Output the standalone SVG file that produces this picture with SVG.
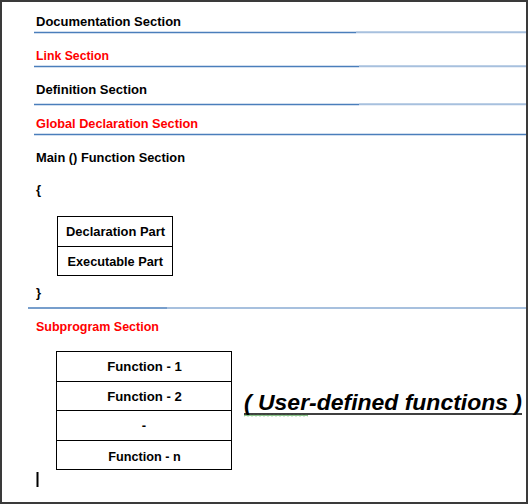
<svg xmlns="http://www.w3.org/2000/svg" width="528" height="504" viewBox="0 0 528 504">
<style>
.t{font-family:"Liberation Sans",Arial,sans-serif;font-weight:bold;font-size:13px;fill:#000}
.r{fill:#ff0000}
.c{text-anchor:middle}
.box{fill:#fff;stroke:#000;stroke-width:1}
.dk{stroke:#4a7ebb;stroke-width:1.3}
.lt{stroke:#a7c0de;stroke-width:2}
</style>
<rect x="0" y="0" width="528" height="504" fill="#fff"/>
<g id="connectors">
<line class="dk" x1="34" y1="32.5" x2="356" y2="32.5"/>
<line class="lt" x1="356" y1="32.3" x2="527" y2="32.3"/>
<line class="dk" x1="34" y1="66.5" x2="359" y2="66.5"/>
<line class="lt" x1="359" y1="66.3" x2="527" y2="66.3"/>
<line class="dk" x1="34" y1="104.5" x2="359" y2="104.5"/>
<line class="lt" x1="359" y1="104.3" x2="527" y2="104.3"/>
<line class="dk" x1="34" y1="134.5" x2="527" y2="134.5"/>
<line class="dk" x1="28" y1="308" x2="167" y2="308"/>
<line class="lt" x1="167" y1="308" x2="527" y2="308"/>
</g>
<g id="documentation"><text class="t" x="36" y="25.5" textLength="145" lengthAdjust="spacingAndGlyphs">Documentation Section</text></g>
<g id="link"><text class="t r" x="36" y="59.5" textLength="73" lengthAdjust="spacingAndGlyphs">Link Section</text></g>
<g id="definition"><text class="t" x="36" y="93.5" textLength="111" lengthAdjust="spacingAndGlyphs">Definition Section</text></g>
<g id="global"><text class="t r" x="36" y="127.5" textLength="162" lengthAdjust="spacingAndGlyphs">Global Declaration Section</text></g>
<g id="main"><text class="t" x="36" y="161.5" textLength="149" lengthAdjust="spacingAndGlyphs">Main () Function Section</text>
<text class="t" x="36" y="194">{</text>
<text class="t" x="36" y="296.5">}</text></g>
<g id="main-body">
<rect class="box" x="57.5" y="216.5" width="115" height="59"/>
<line stroke="#000" x1="57.5" y1="246.5" x2="172.5" y2="246.5"/>
<text class="t" x="66" y="236" textLength="99" lengthAdjust="spacingAndGlyphs">Declaration Part</text>
<text class="t" x="67.5" y="266" textLength="95.5" lengthAdjust="spacingAndGlyphs">Executable Part</text>
</g>
<g id="subprogram"><text class="t r" x="36" y="331" textLength="123" lengthAdjust="spacingAndGlyphs">Subprogram Section</text></g>
<g id="functions">
<rect class="box" x="56.5" y="351.5" width="175" height="118"/>
<line stroke="#000" x1="56.5" y1="381.5" x2="231.5" y2="381.5"/>
<line stroke="#000" x1="56.5" y1="410.5" x2="231.5" y2="410.5"/>
<line stroke="#000" x1="56.5" y1="440.5" x2="231.5" y2="440.5"/>
<text class="t" x="107.3" y="371" textLength="74.5" lengthAdjust="spacingAndGlyphs">Function  - 1</text>
<text class="t" x="107.3" y="401" textLength="74.5" lengthAdjust="spacingAndGlyphs">Function -  2</text>
<text class="t c" x="144" y="430">-</text>
<text class="t" x="108.3" y="460.5" textLength="72.5" lengthAdjust="spacingAndGlyphs">Function - n</text>
</g>
<g id="user-defined">
<text x="244" y="410" font-family="'Liberation Sans',Arial,sans-serif" font-weight="bold" font-style="italic" font-size="22" textLength="278" lengthAdjust="spacingAndGlyphs">( User-defined functions )</text>
<line stroke="#000" stroke-width="1.5" x1="244" y1="414" x2="522" y2="414"/>
<path d="M244 416 l2 -1 l2 1 l2 -1 l2 1 l2 -1 l2 1 l2 -1 l2 1 l2 -1 l2 1 l2 -1 l2 1 l2 -1 l2 1 l2 -1 l2 1 l2 -1 l2 1 l2 -1 l2 1 l2 -1 l2 1 l2 -1 l2 1 l2 -1 l2 1 l2 -1 l2 1 l2 -1 l2 1 l2 -1 l2 1" fill="none" stroke="#3a9a3a" stroke-width="0.8"/>
</g>
<rect x="36.5" y="472" width="2" height="15" fill="#000"/>
<rect x="1" y="1" width="526" height="502" fill="none" stroke="#3a3a3a" stroke-width="2"/>
</svg>
